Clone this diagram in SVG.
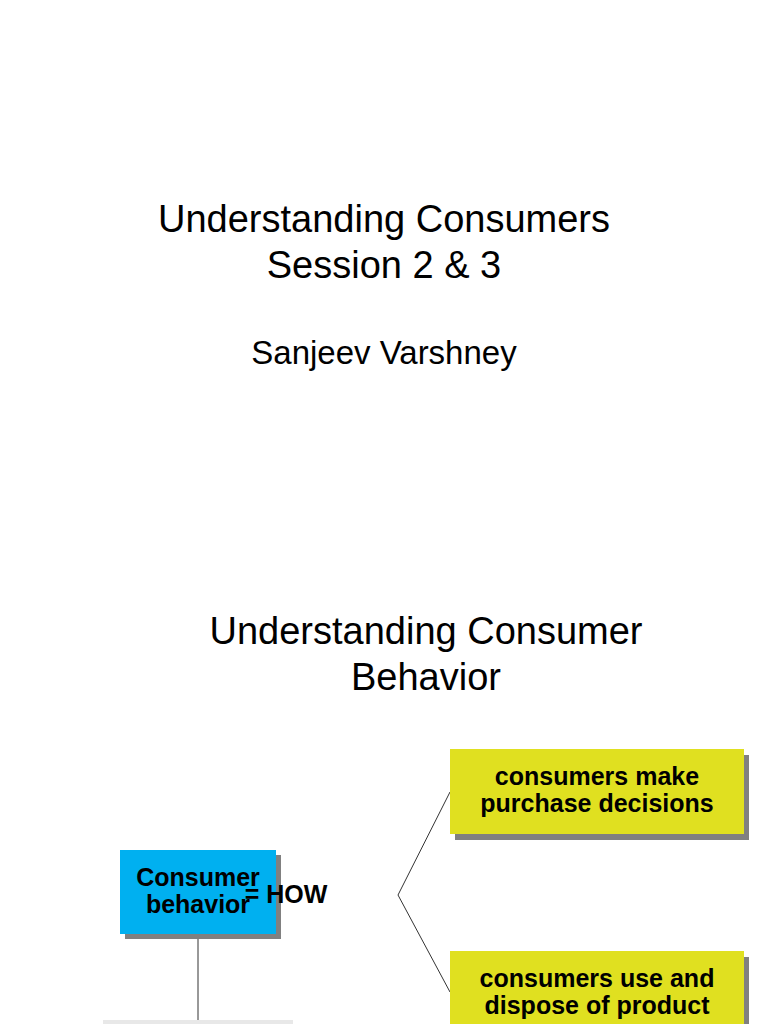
<svg xmlns="http://www.w3.org/2000/svg" width="768" height="1024" viewBox="0 0 768 1024">
<style>
.t{font-family:"Liberation Sans",Arial,sans-serif;fill:#000;text-anchor:middle}
.b{font-family:"Liberation Sans",Arial,sans-serif;font-weight:bold;font-size:25px;fill:#000;text-anchor:middle}
.sh{fill:#808080}
.c{stroke:#333;stroke-width:1;fill:none}
</style>
<rect width="768" height="1024" fill="#fff"/>
<text class="t" x="384" y="232" font-size="38">Understanding Consumers</text>
<text class="t" x="384" y="278" font-size="38">Session 2 &amp; 3</text>
<text class="t" x="384" y="364" font-size="33">Sanjeev Varshney</text>
<text class="t" x="426" y="644" font-size="38">Understanding Consumer</text>
<text class="t" x="426" y="690" font-size="38">Behavior</text>
<g id="connectors">
<line class="c" x1="198" y1="935" x2="198" y2="1021"/>
<polyline class="c" points="450,792 398,895 450,992"/>
</g>
<g id="consumer-behavior">
<rect class="sh" x="125" y="855" width="156" height="84"/>
<rect x="120" y="850" width="156" height="84" fill="#00b0f0"/>
<text class="b" x="198" y="886">Consumer</text>
<text class="b" x="198" y="913">behavior</text>
</g>
<text id="how" class="b" x="286" y="903" text-anchor="start">=  HOW</text>
<g id="make">
<rect class="sh" x="455" y="755" width="294" height="85"/>
<rect x="450" y="749" width="294" height="85" fill="#e0e020"/>
<text class="b" x="597" y="785">consumers make</text>
<text class="b" x="597" y="812">purchase decisions</text>
</g>
<g id="use">
<rect class="sh" x="455" y="957" width="294" height="85"/>
<rect x="450" y="951" width="294" height="85" fill="#e0e020"/>
<text class="b" x="597" y="987">consumers use and</text>
<text class="b" x="597" y="1014">dispose of product</text>
</g>
<g id="bottom">
<rect x="103" y="1020" width="190" height="10" fill="#e8e8e8"/>
</g>
</svg>
